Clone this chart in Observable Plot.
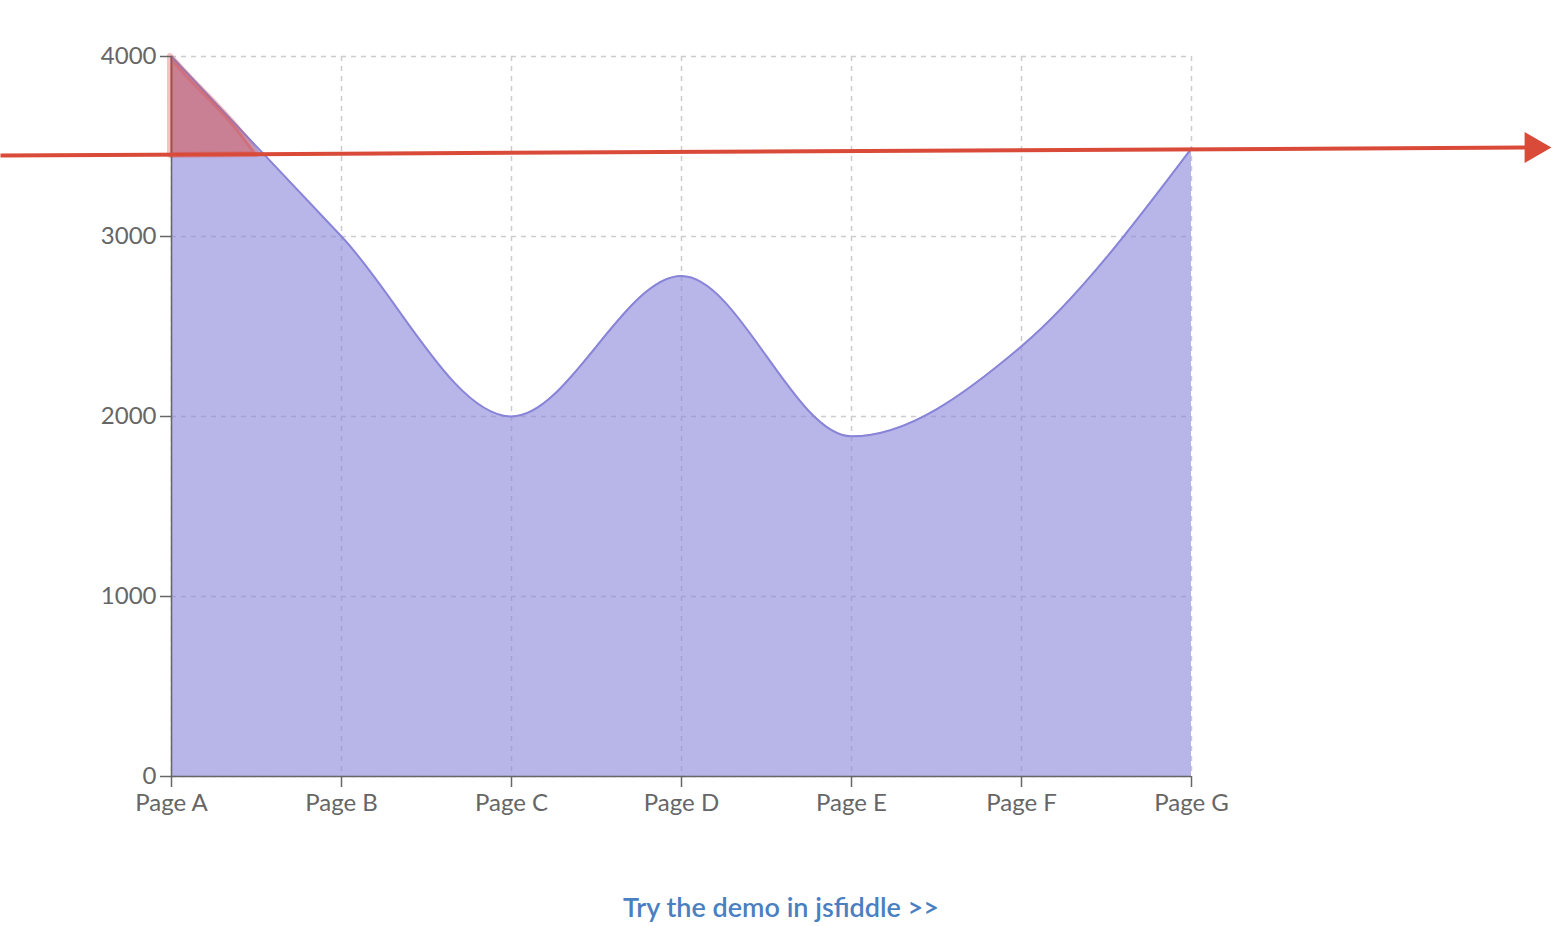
<!DOCTYPE html>
<html>
<head>
<meta charset="utf-8">
<script src="https://cdn.jsdelivr.net/npm/d3@7"></script>
<script src="https://cdn.jsdelivr.net/npm/@observablehq/plot@0.6"></script>
<style>
  html, body { margin: 0; padding: 0; background: #fff; }
  body { width: 1552px; height: 926px; position: relative; overflow: hidden; font-family: "Source Sans Pro", Lato, sans-serif; }
  #chart svg { overflow: visible; display: block; }
  #link { position: absolute; left: 0; width: 1562px; top: 891px; line-height: 32px; text-align: center; color: #4a7fc1; font-size: 27px; font-weight: 600; font-family: "Source Sans Pro", Lato, sans-serif; }
</style>
</head>
<body>
<div id="chart"></div>
<div id="link">Try the demo in jsfiddle &gt;&gt;</div>
<script>
const pages = ["Page A", "Page B", "Page C", "Page D", "Page E", "Page F", "Page G"];
const uv = [4000, 3000, 2000, 2780, 1890, 2390, 3490];
const yTicks = [0, 1000, 2000, 3000, 4000];

// annotation arrow (data units: page index, value)
const arrowX = [-1.006, 8.012];
const arrowY = [3450, 3494];

// hand-drawn highlight between curve and arrow near Page A
const hlX = [-0.006, 0.12, 0.25, 0.38, 0.5];
const hlTop = [4000, 3870, 3745, 3610, 3462];
const hlBottom = [3450, 3452, 3453, 3454, 3455];

const data = pages.map((p, i) => ({i, page: p, uv: uv[i]}));
const hl = hlX.map((x, k) => ({x, top: hlTop[k], bottom: hlBottom[k]}));
const arrowLine = [{x1: arrowX[0], y1: arrowY[0], x2: arrowX[1] - 0.05, y2: arrowY[1]}];
const arrowHead = [{x: arrowX[1], y: arrowY[1]}];

const chart = Plot.plot({
  width: 1552,
  height: 926,
  marginLeft: 171,
  marginRight: 361,
  marginTop: 56,
  marginBottom: 150,
  style: {fontFamily: '"Source Sans Pro", Lato, sans-serif', fontSize: "24px", color: "#666", background: "#fff"},
  x: {type: "linear", domain: [0, 6]},
  y: {domain: [0, 4000]},
  marks: [
    Plot.gridX(d3.range(pages.length), {stroke: "#ccc", strokeOpacity: 1, strokeDasharray: "5,5", strokeWidth: 1.5}),
    Plot.gridY(yTicks, {stroke: "#ccc", strokeOpacity: 1, strokeDasharray: "5,5", strokeWidth: 1.5}),
    Plot.areaY(data, {x: "i", y: "uv", curve: "monotone-x", fill: "#8884d8", fillOpacity: 0.6}),
    Plot.lineY(data, {x: "i", y: "uv", curve: "monotone-x", stroke: "#8884d8", strokeWidth: 2}),
    Plot.areaY(hl, {x: "x", y1: "bottom", y2: "top", curve: "catmull-rom", fill: "#d9534f", fillOpacity: 0.55, stroke: "#d9534f", strokeOpacity: 0.35, strokeWidth: 6, strokeLinejoin: "round"}),
    Plot.ruleY([0], {stroke: "#666", strokeWidth: 1.5}),
    Plot.ruleX([0], {stroke: "#666", strokeWidth: 1.5}),
    Plot.axisX(d3.range(pages.length), {tickFormat: i => pages[i], tickSize: 11, tickPadding: 6, stroke: "#666", strokeWidth: 1.5, fill: "#666", fontSize: 24, label: null}),
    Plot.axisY(yTicks, {tickFormat: d3.format("d"), tickSize: 11, tickPadding: 4, stroke: "#666", strokeWidth: 1.5, fill: "#666", fontSize: 24, label: null}),
    Plot.link(arrowLine, {x1: "x1", y1: "y1", x2: "x2", y2: "y2", stroke: "#d94a38", strokeWidth: 4}),
    Plot.dot(arrowHead, {x: "x", y: "y", symbol: "triangle", rotate: 90, r: 11.5, fill: "#d94a38", stroke: "none"})
  ]
});
document.getElementById("chart").append(chart);
</script>
</body>
</html>
